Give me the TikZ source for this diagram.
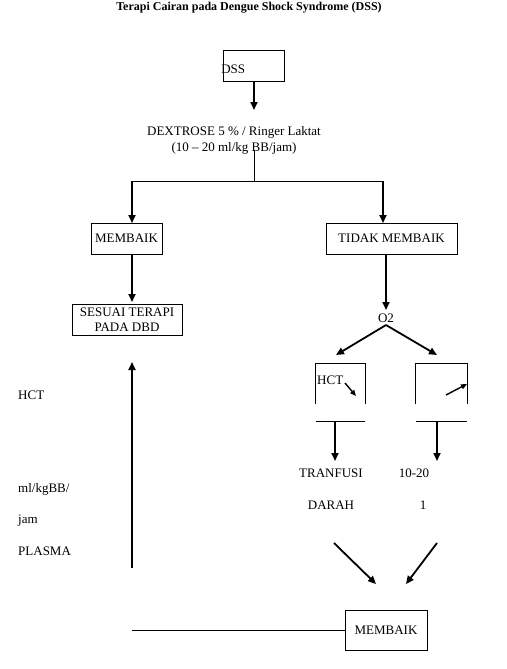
\documentclass[tikz,border=0pt]{standalone}
\usepackage{fontspec}
\setmainfont{Liberation Serif}
\usetikzlibrary{arrows.meta}
\begin{document}
\begin{tikzpicture}[x=1pt,y=-1pt,
  txt/.style={font=\fontsize{13}{15}\selectfont, inner sep=0pt},
  box/.style={draw, line width=0.8pt, font=\fontsize{13}{15}\selectfont, inner sep=0pt, align=center},
  thin/.style={line width=0.8pt},
  thick arrow/.style={line width=1.8pt, -{Triangle[length=8pt,width=7pt]}},
  small arrow/.style={line width=1.4pt, -{Triangle[length=6pt,width=5pt]}}]
\useasboundingbox (0,0) rectangle (506,669);
% title
\node[inner sep=0pt, font=\fontsize{12}{14}\selectfont\bfseries] (title) at (249,8) {Terapi Cairan pada Dengue Shock Syndrome (DSS)};
% DSS box
\node[box, minimum width=61pt, minimum height=31pt,
      label={[txt, anchor=west, xshift=-1.5pt, yshift=-3.5pt]west:DSS}] (dss) at (253.5,65.5) {};
% dextrose
\node[txt, align=center] (dex) at (234,140) {DEXTROSE 5 \% / Ringer Laktat\\[1pt](10 – 20 ml/kg BB/jam)};
\coordinate (dexbot) at (254,150);
\coordinate (split) at (254,181);
\coordinate (splitL) at (132,181);
\coordinate (splitR) at (383,181);
\draw[thick arrow] (254,81) -- (254,110);
\draw[thin] (dexbot) -- (split);
\draw[thin] (splitL) -- (splitR);
% membaik / tidak membaik
\node[box, minimum width=71pt, minimum height=31pt] (memb) at (126.5,238.5) {MEMBAIK};
\node[box, minimum width=131pt, minimum height=31pt] (tidak) at (391.5,238.5) {TIDAK MEMBAIK};
\draw[thick arrow] (splitL) -- (132,223);
\draw[thick arrow] (splitR) -- (383,223);
% sesuai
\node[box, minimum width=110pt, minimum height=31pt] (sesuai) at (127,319.5) {SESUAI TERAPI\\PADA DBD};
\draw[thick arrow] (132,254) -- (132,302);
% O2
\node[txt] (o2) at (386,318) {O2};
\draw[thick arrow] (386,254) -- (386,310);
\coordinate (o2b) at (386,325);
\draw[thick arrow] (o2b) -- (336,355);
\draw[thick arrow] (o2b) -- (437,355);
% small boxes
\node[minimum width=49pt, minimum height=40pt, inner sep=0pt] (hctbox) at (340.5,384) {};
\node[minimum width=51pt, minimum height=40pt, inner sep=0pt] (rbox) at (441.5,384) {};
\draw[thin] (hctbox.south west) -- (hctbox.north west) -- (hctbox.north east) -- (hctbox.south east);
\draw[thin] (rbox.south west) -- (rbox.north west) -- (rbox.north east) -- (rbox.south east);
\node[txt, anchor=west] (hctin) at (317,380) {HCT};
\draw[small arrow] (345,383) -- (356,396);
\draw[small arrow] (446,395) -- (467,384);
\coordinate (bar1l) at (316,421);
\coordinate (bar1r) at (365,421);
\coordinate (bar2l) at (416,421);
\coordinate (bar2r) at (467,421);
\draw[thin] (bar1l) -- (bar1r);
\draw[thin] (bar2l) -- (bar2r);
\node[txt] (tranfusi) at (331,473) {TRANFUSI};
\node[txt] (darah) at (331,505) {DARAH};
\node[txt] (ten) at (414,473) {10-20};
\node[txt] (one) at (423,505) {1};
\draw[thick arrow] (335,421) -- (335,461);
\draw[thick arrow] (437,421) -- (437,461);
% left texts
\node[txt, anchor=west] (hctl) at (18,395) {HCT};
\node[txt, anchor=west] (mlkg) at (18,489) {ml/kgBB/};
\node[txt, anchor=west] (jam) at (18,521) {jam};
\node[txt, anchor=west] (plasma) at (18,551) {PLASMA};
% upward arrow
\coordinate (upbot) at (132,568);
\coordinate (uptop) at (132,362);
\draw[thick arrow] (upbot) -- (uptop);
% bottom
\node[box, minimum width=82pt, minimum height=40pt] (memb2) at (386,630) {MEMBAIK};
\coordinate (lineL) at (132,630);
\draw[thin] (lineL) -- (memb2.west);
\draw[thick arrow] (334,543) -- (376,584);
\draw[thick arrow] (437,543) -- (406,584);
\end{tikzpicture}
\end{document}
